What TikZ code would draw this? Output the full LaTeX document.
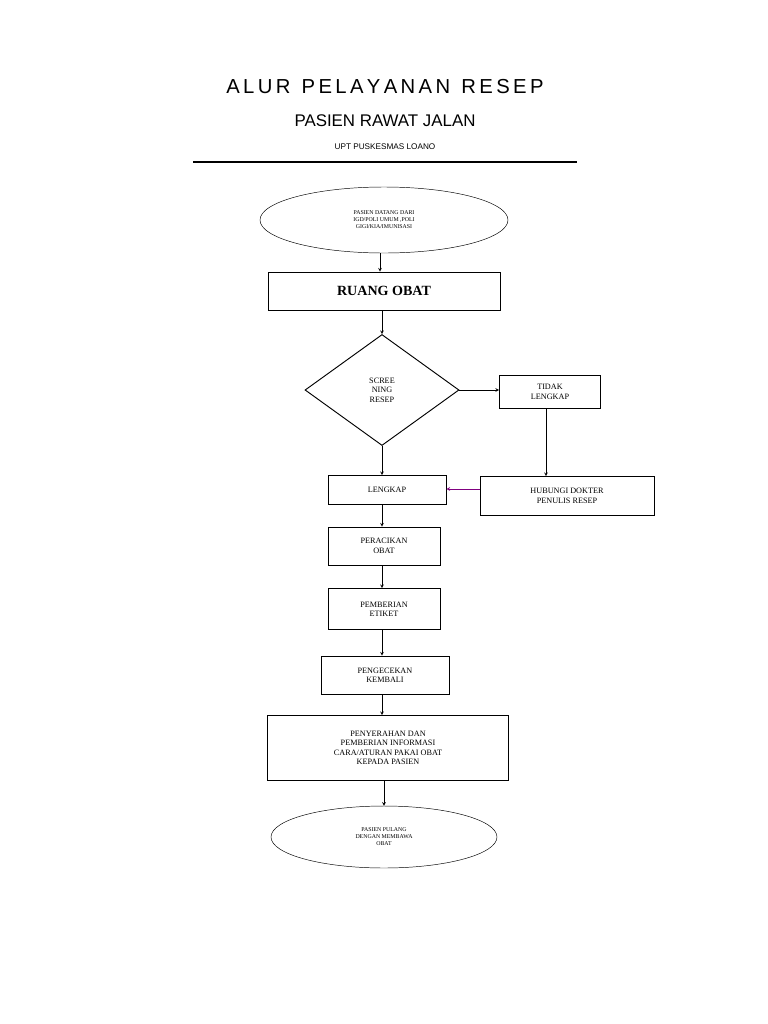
\documentclass[tikz,border=0pt]{standalone}
\usepackage{fontspec}
\setmainfont{Liberation Serif}
\newfontfamily\headfont{Liberation Sans}
\usetikzlibrary{shapes.geometric}
\tikzset{
  box/.style={draw, thick, align=center, font=\scriptsize, inner sep=1pt},
  oval/.style={draw, ellipse, align=center, font=\tiny, inner sep=0pt},
  arr/.style={->, >=stealth}
}
\begin{document}
\begin{tikzpicture}[x=0.03cm, y=-0.03cm]
        \useasboundingbox (0,0) rectangle (768,1024);
        \node (t1) at (385, 87) {\headfont\LARGE A\,L\,U\,R\ \ P\,E\,L\,A\,Y\,A\,N\,A\,N\ \ R\,E\,S\,E\,P};
        \node (t2) at (385, 121) {\headfont\Large PASIEN RAWAT JALAN};
        \node (t3) at (385, 147) {\headfont\scriptsize UPT PUSKESMAS LOANO};
        \draw[line width=1.2pt] (193, 162) -- (577, 162);
        
        \node (datang) at (384, 220) [oval, minimum width=248*0.03cm, minimum height=66*0.03cm] {PASIEN DATANG DARI\\IGD/POLI UMUM ,POLI\\GIGI/KIA/IMUNISASI};
        \node (ruang) at (384, 291) [box, minimum width=232*0.03cm, minimum height=38*0.03cm, font=\large\bfseries] {RUANG OBAT};
        \node (screen) at (382, 390) [draw, thick, diamond, aspect=1.4, minimum width=154*0.03cm, minimum height=111*0.03cm, align=center, font=\scriptsize, inner sep=0pt] {SCREE\\NING\\RESEP};
        \node (tidak) at (550, 392) [box, minimum width=101*0.03cm, minimum height=33*0.03cm] {TIDAK\\LENGKAP};
        \node (hubungi) at (567, 496) [box, minimum width=174*0.03cm, minimum height=39*0.03cm] {HUBUNGI DOKTER\\PENULIS RESEP};
        \node (lengkap) at (387, 490) [box, minimum width=118*0.03cm, minimum height=29*0.03cm] {LENGKAP};
        \node (racik) at (384, 546) [box, minimum width=112*0.03cm, minimum height=38*0.03cm] {PERACIKAN\\OBAT};
        \node (etiket) at (384, 609) [box, minimum width=112*0.03cm, minimum height=41*0.03cm] {PEMBERIAN\\ETIKET};
        \node (cek) at (385, 675) [box, minimum width=128*0.03cm, minimum height=38*0.03cm] {PENGECEKAN\\KEMBALI};
        \node (serah) at (388, 748) [box, minimum width=241*0.03cm, minimum height=65*0.03cm] {PENYERAHAN DAN\\PEMBERIAN INFORMASI\\CARA/ATURAN PAKAI OBAT\\KEPADA PASIEN};
        \node (pulang) at (384, 837) [oval, minimum width=226*0.03cm, minimum height=62*0.03cm] {PASIEN PULANG\\DENGAN MEMBAWA\\OBAT};
        
        \draw[arr] (datang.south -| 380,0) -- (ruang.north -| 380,0);
        \draw[arr] (ruang.south -| 382,0) -- (screen.north);
        \draw[arr] (screen.east) -- (tidak.west |- screen.east);
        \draw[arr] (tidak.south -| 546,0) -- (hubungi.north -| 546,0);
        \draw[arr, violet] (hubungi.west |- 0,489) -- (lengkap.east |- 0,489);
        \draw[arr] (screen.south) -- (lengkap.north -| screen.south);
        \draw[arr] (lengkap.south -| 382,0) -- (racik.north -| 382,0);
        \draw[arr] (racik.south -| 382,0) -- (etiket.north -| 382,0);
        \draw[arr] (etiket.south -| 382,0) -- (cek.north -| 382,0);
        \draw[arr] (cek.south -| 382,0) -- (serah.north -| 382,0);
        \draw[arr] (serah.south -| 384,0) -- (pulang.north);
\end{tikzpicture}
\end{document}
